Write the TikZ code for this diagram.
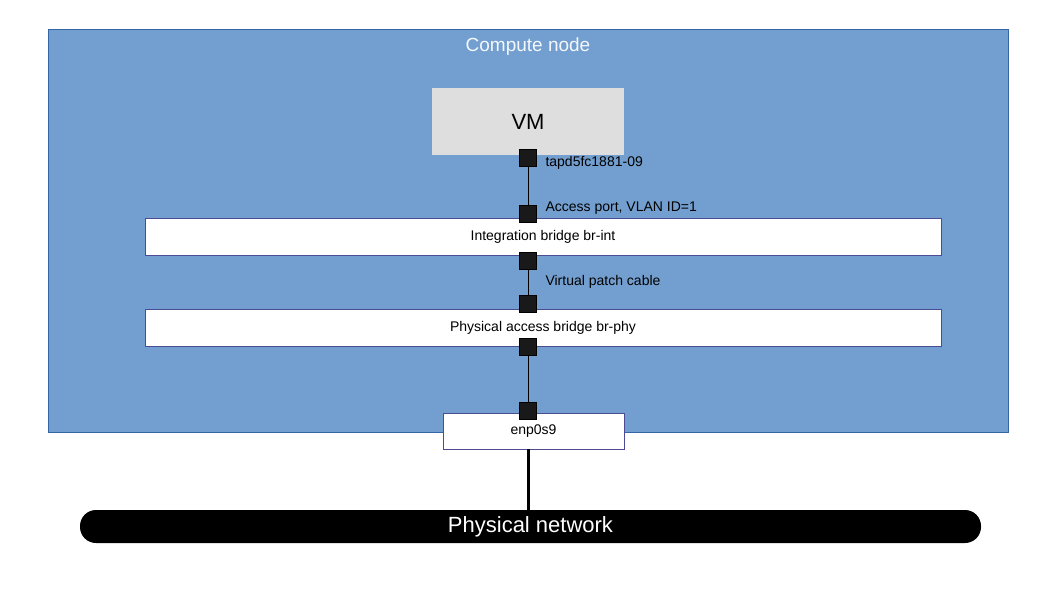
\documentclass[tikz,border=0pt]{standalone}
\usepackage{fontspec}
\setmainfont{Liberation Sans}
\begin{document}
\begin{tikzpicture}[x=1pt,y=-1pt,
  port/.style={fill=black!90,draw=black,minimum size=17pt,inner sep=0pt},
  bridge/.style={draw=blue!40!black!70,fill=white,line width=0.6pt,inner sep=0pt,font=\fontsize{14}{16}\selectfont},
  lbl/.style={anchor=west,font=\fontsize{14}{16}\selectfont}]
\useasboundingbox (0,0) rectangle (1058,595);
\definecolor{cn}{HTML}{729FCF}
\definecolor{cnb}{HTML}{3465A4}
\node[fill=cn,draw=cnb,line width=0.6pt,minimum width=960pt,minimum height=403pt,inner sep=0pt] (cnode) at (528,230.5) {};
\node[text=white!92!cn,font=\fontsize{19}{22}\selectfont] (title) at (528,47) {Compute node};
\node[fill=black!13,minimum width=192pt,minimum height=67pt,inner sep=0pt,font=\fontsize{22}{26}\selectfont] (vm) at (528,121.5) {VM};
\node[bridge,minimum width=796pt,minimum height=37pt] (brint) at (543,236.5) {Integration bridge br-int};
\node[bridge,minimum width=796pt,minimum height=37pt] (brphy) at (543,327.5) {Physical access bridge br-phy};
\node[bridge,minimum width=181pt,minimum height=36pt] (enp) at (533.5,431) {enp0s9};
\node[fill=black,rounded corners=16pt,minimum width=901pt,minimum height=33pt,inner sep=0pt,text=white,font=\fontsize{22}{26}\selectfont] (net) at (530.5,526.5) {Physical network};
\node[port] (p1) at (528,158) {};
\node[port] (p2) at (528,214) {};
\node[port] (p3) at (528,261) {};
\node[port] (p4) at (528,304) {};
\node[port] (p5) at (528,347) {};
\node[port] (p6) at (528,411) {};
\draw (p1) -- (p2);
\draw (p3) -- (p4);
\draw (p5) -- (p6);
\draw[line width=3pt] (enp.south -| p6) -- (net.north -| p6);
\node[lbl] (l1) at (542,163) {tapd5fc1881-09};
\node[lbl] (l2) at (542,208) {Access port, VLAN ID=1};
\node[lbl] (l3) at (542,282) {Virtual patch cable};
\end{tikzpicture}
\end{document}
